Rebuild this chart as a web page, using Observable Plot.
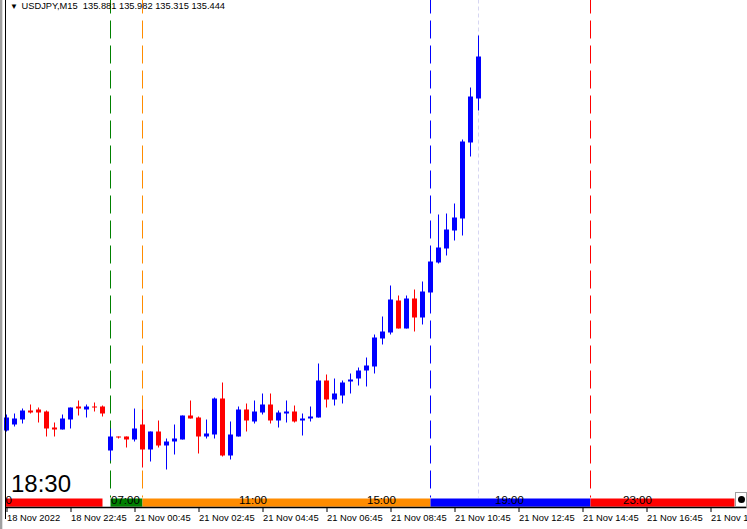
<!DOCTYPE html>
<html>
<head>
<meta charset="utf-8">
<script src="https://cdn.jsdelivr.net/npm/d3@7"></script>
<script src="https://cdn.jsdelivr.net/npm/@observablehq/plot@0.6"></script>
<style>
html, body { margin: 0; padding: 0; background: #fff; overflow: hidden; }
#wrap { position: relative; width: 747px; height: 529px; font-family: "Liberation Sans", Arial, sans-serif; }
#wrap svg { position: absolute; left: 0; top: 0; }
.frameA { position: absolute; left: 0; top: 0; width: 2px; height: 529px; background: #a0a0a0; }
.frameB { position: absolute; left: 2px; top: 0; width: 1px; height: 529px; background: #e0e0e0; }
.frameC { position: absolute; left: 5px; top: 0; width: 1px; height: 519px; background: #000; }
.btn { position: absolute; left: 735px; top: 492px; width: 12px; height: 15px; box-sizing: border-box; border: 1px solid #a0a0a0; background: #fff; }
.btn::after { content: ""; position: absolute; left: 2px; top: 3px; width: 7px; height: 7px; border-radius: 50%; background: #000; }
</style>
</head>
<body>
<div id="wrap"></div>
<script>
// ---- data (USDJPY, M15) ----
const symbolLabel = "USDJPY,M15";
const headerValues = ["135.881", "135.982", "135.315", "135.444"];
const clockText = "18:30";

const open = [140.045,140.075,140.100,140.145,140.150,140.140,140.060,140.050,140.100,140.165,
  140.150,140.165,140.165,139.945,140.015,140.015,140.000,140.075,139.950,140.040,
  139.970,139.990,140.000,140.120,140.110,140.015,140.025,140.205,139.920,140.015,
  140.150,140.090,140.135,140.175,140.095,140.130,140.140,140.095,140.105,140.110,
  140.295,140.200,140.220,140.290,140.305,140.345,140.365,140.505,140.535,140.695,
  140.555,140.705,140.610,140.735,140.885,140.955,141.045,141.105,141.485,141.705];
const high = [140.125,140.130,140.155,140.175,140.160,140.145,140.085,140.125,140.160,140.195,
  140.175,140.185,140.170,140.055,140.015,140.015,140.155,140.150,140.040,140.095,
  140.005,140.075,140.120,140.195,140.115,140.100,140.210,140.285,140.090,140.165,
  140.180,140.195,140.230,140.230,140.145,140.195,140.170,140.130,140.165,140.380,
  140.325,140.305,140.295,140.330,140.360,140.410,140.525,140.615,140.770,140.720,
  140.720,140.750,140.790,140.915,141.125,141.130,141.180,141.500,141.760,142.020];
const low = [140.040,140.065,140.080,140.130,140.085,140.015,140.015,140.050,140.055,140.120,
  140.110,140.140,140.115,139.895,140.005,139.960,139.990,139.860,139.890,139.960,
  139.850,139.925,140.000,140.105,139.930,140.005,140.005,139.915,139.900,140.015,
  140.040,140.080,140.125,140.080,140.060,140.085,140.085,140.020,140.090,140.110,
  140.160,140.170,140.180,140.230,140.270,140.265,140.330,140.475,140.525,140.555,
  140.555,140.540,140.575,140.685,140.880,140.920,140.995,141.020,141.415,141.645];
const close = [140.110,140.105,140.145,140.135,140.135,140.055,140.050,140.105,140.160,140.155,
  140.165,140.160,140.130,140.015,140.010,140.000,140.055,139.950,140.040,139.970,
  139.990,140.005,140.120,140.105,140.015,140.030,140.205,139.920,140.025,140.150,
  140.095,140.140,140.175,140.095,140.135,140.140,140.090,140.105,140.115,140.295,
  140.200,140.230,140.285,140.300,140.345,140.370,140.510,140.540,140.700,140.555,
  140.705,140.610,140.740,140.890,140.960,141.050,141.110,141.490,141.715,141.915];

const tickIndex = [0, 8, 16, 24, 32, 40, 48, 56, 64, 72, 80, 88];
const tickLabels = ["18 Nov 2022", "18 Nov 22:45", "21 Nov 00:45", "21 Nov 02:45", "21 Nov 04:45",
  "21 Nov 06:45", "21 Nov 08:45", "21 Nov 10:45", "21 Nov 12:45", "21 Nov 14:45",
  "21 Nov 16:45", "21 Nov 18:45"];

const separatorIndex = [13, 17, 53, 73];
const separatorColor = ["#008000", "#ff8c00", "#0000ff", "#ff0000"];
const currentBarIndex = 59;

const sessionStart = [-4, 13, 17, 53, 73];
const sessionEnd = [12, 17, 53, 73, 91];
const sessionColor = ["#ff0000", "#008000", "#ff8c00", "#0000ff", "#ff0000"];

const hourLabelIndex = [-3, 13, 29, 45, 61, 77];
const hourLabels = ["03:00", "07:00", "11:00", "15:00", "19:00", "23:00"];

const bullColor = "#0000ff";
const bearColor = "#ff0000";

// ---- build tables ----
const bars = open.map((o, i) => ({i, o, h: high[i], l: low[i], c: close[i]}));
const seps = separatorIndex.map((k, j) => ({k, color: separatorColor[j]}));
const sessions = sessionStart.map((s, j) => ({s, e: sessionEnd[j], color: sessionColor[j]}));
const hours = hourLabelIndex.map((k, j) => ({k, label: hourLabels[j]}));

// layout: vertical scale 200 px per yen, axis line at 508px
const W = 747, H = 529, MB = 21, ML = 6;
const yTop = 142.2, pxPerUnit = 200;
const py = (px) => yTop - px / pxPerUnit;   // pixel row -> price (layout helper)
const colorOf = (d) => d.c >= d.o ? bullColor : bearColor;
const crisp = {dx: -0.5, dy: -0.5};         // cancel Plot's half-pixel offset

const chart = Plot.plot({
  width: W, height: H,
  marginTop: 0, marginBottom: MB, marginLeft: ML, marginRight: 0,
  style: {fontFamily: "'Liberation Sans', Arial, sans-serif", background: "transparent", overflow: "visible"},
  x: {type: "linear", domain: [-0.0625, (W - ML) / 8 - 0.0625], axis: null},
  y: {type: "linear", domain: [py(H - MB), yTop], axis: null},
  color: {type: "identity"},
  marks: [
    // session strip
    Plot.rect(sessions, {x1: "s", x2: "e", y1: py(498.5), y2: py(506.7), fill: d => d.color, clip: true}),
    Plot.text(hours, {x: "k", y: py(503), text: "label", textAnchor: "start", lineAnchor: "bottom",
      fontSize: 11.5, fill: "black", clip: true}),
    // period separators
    Plot.ruleX([currentBarIndex], {x: d => d, y1: py(0), y2: py(498), stroke: "#d6d6f2",
      strokeDasharray: "4,3", ...crisp}),
    Plot.ruleX(seps, {x: "k", y1: py(0), y2: py(498), stroke: d => d.color, strokeWidth: 1,
      strokeDasharray: "18,7", strokeDashoffset: 4, ...crisp}),
    // candles: wicks and bodies
    Plot.ruleX(bars, {x: "i", y1: "l", y2: "h", stroke: colorOf, strokeWidth: 1, ...crisp}),
    Plot.ruleX(bars, {x: "i", y1: "o", y2: "c", stroke: colorOf, strokeWidth: 5, ...crisp}),
    // bottom axis
    Plot.ruleY([py(507.5)], {stroke: "black", strokeWidth: 1.5, ...crisp}),
    Plot.axisX(tickIndex, {tickFormat: d => tickLabels[tickIndex.indexOf(d)], textAnchor: "start",
      tickSize: 4, tickPadding: 2, fontSize: 9.4, stroke: "black", fill: "black"}),
    // header and clock text
    Plot.text(["\u25BC"], {frameAnchor: "top-left", dx: 3.5, dy: 2.5, fontSize: 8, fill: "black",
      textAnchor: "start", lineAnchor: "top"}),
    Plot.text([symbolLabel + "\u00a0\u00a0" + headerValues.join(" ")], {frameAnchor: "top-left", dx: 15, dy: 1.6,
      fontSize: 9.3, fill: "black", textAnchor: "start", lineAnchor: "top"}),
    Plot.text([clockText], {frameAnchor: "top-left", dx: 4.5, dy: 474.8, fontSize: 24, fill: "black",
      textAnchor: "start", lineAnchor: "top"})
  ]
});

const wrap = document.getElementById("wrap");
wrap.appendChild(chart);
["frameA", "frameB", "frameC", "btn"].forEach(c => {
  const d = document.createElement("div"); d.className = c; wrap.appendChild(d);
});
</script>
</body>
</html>
